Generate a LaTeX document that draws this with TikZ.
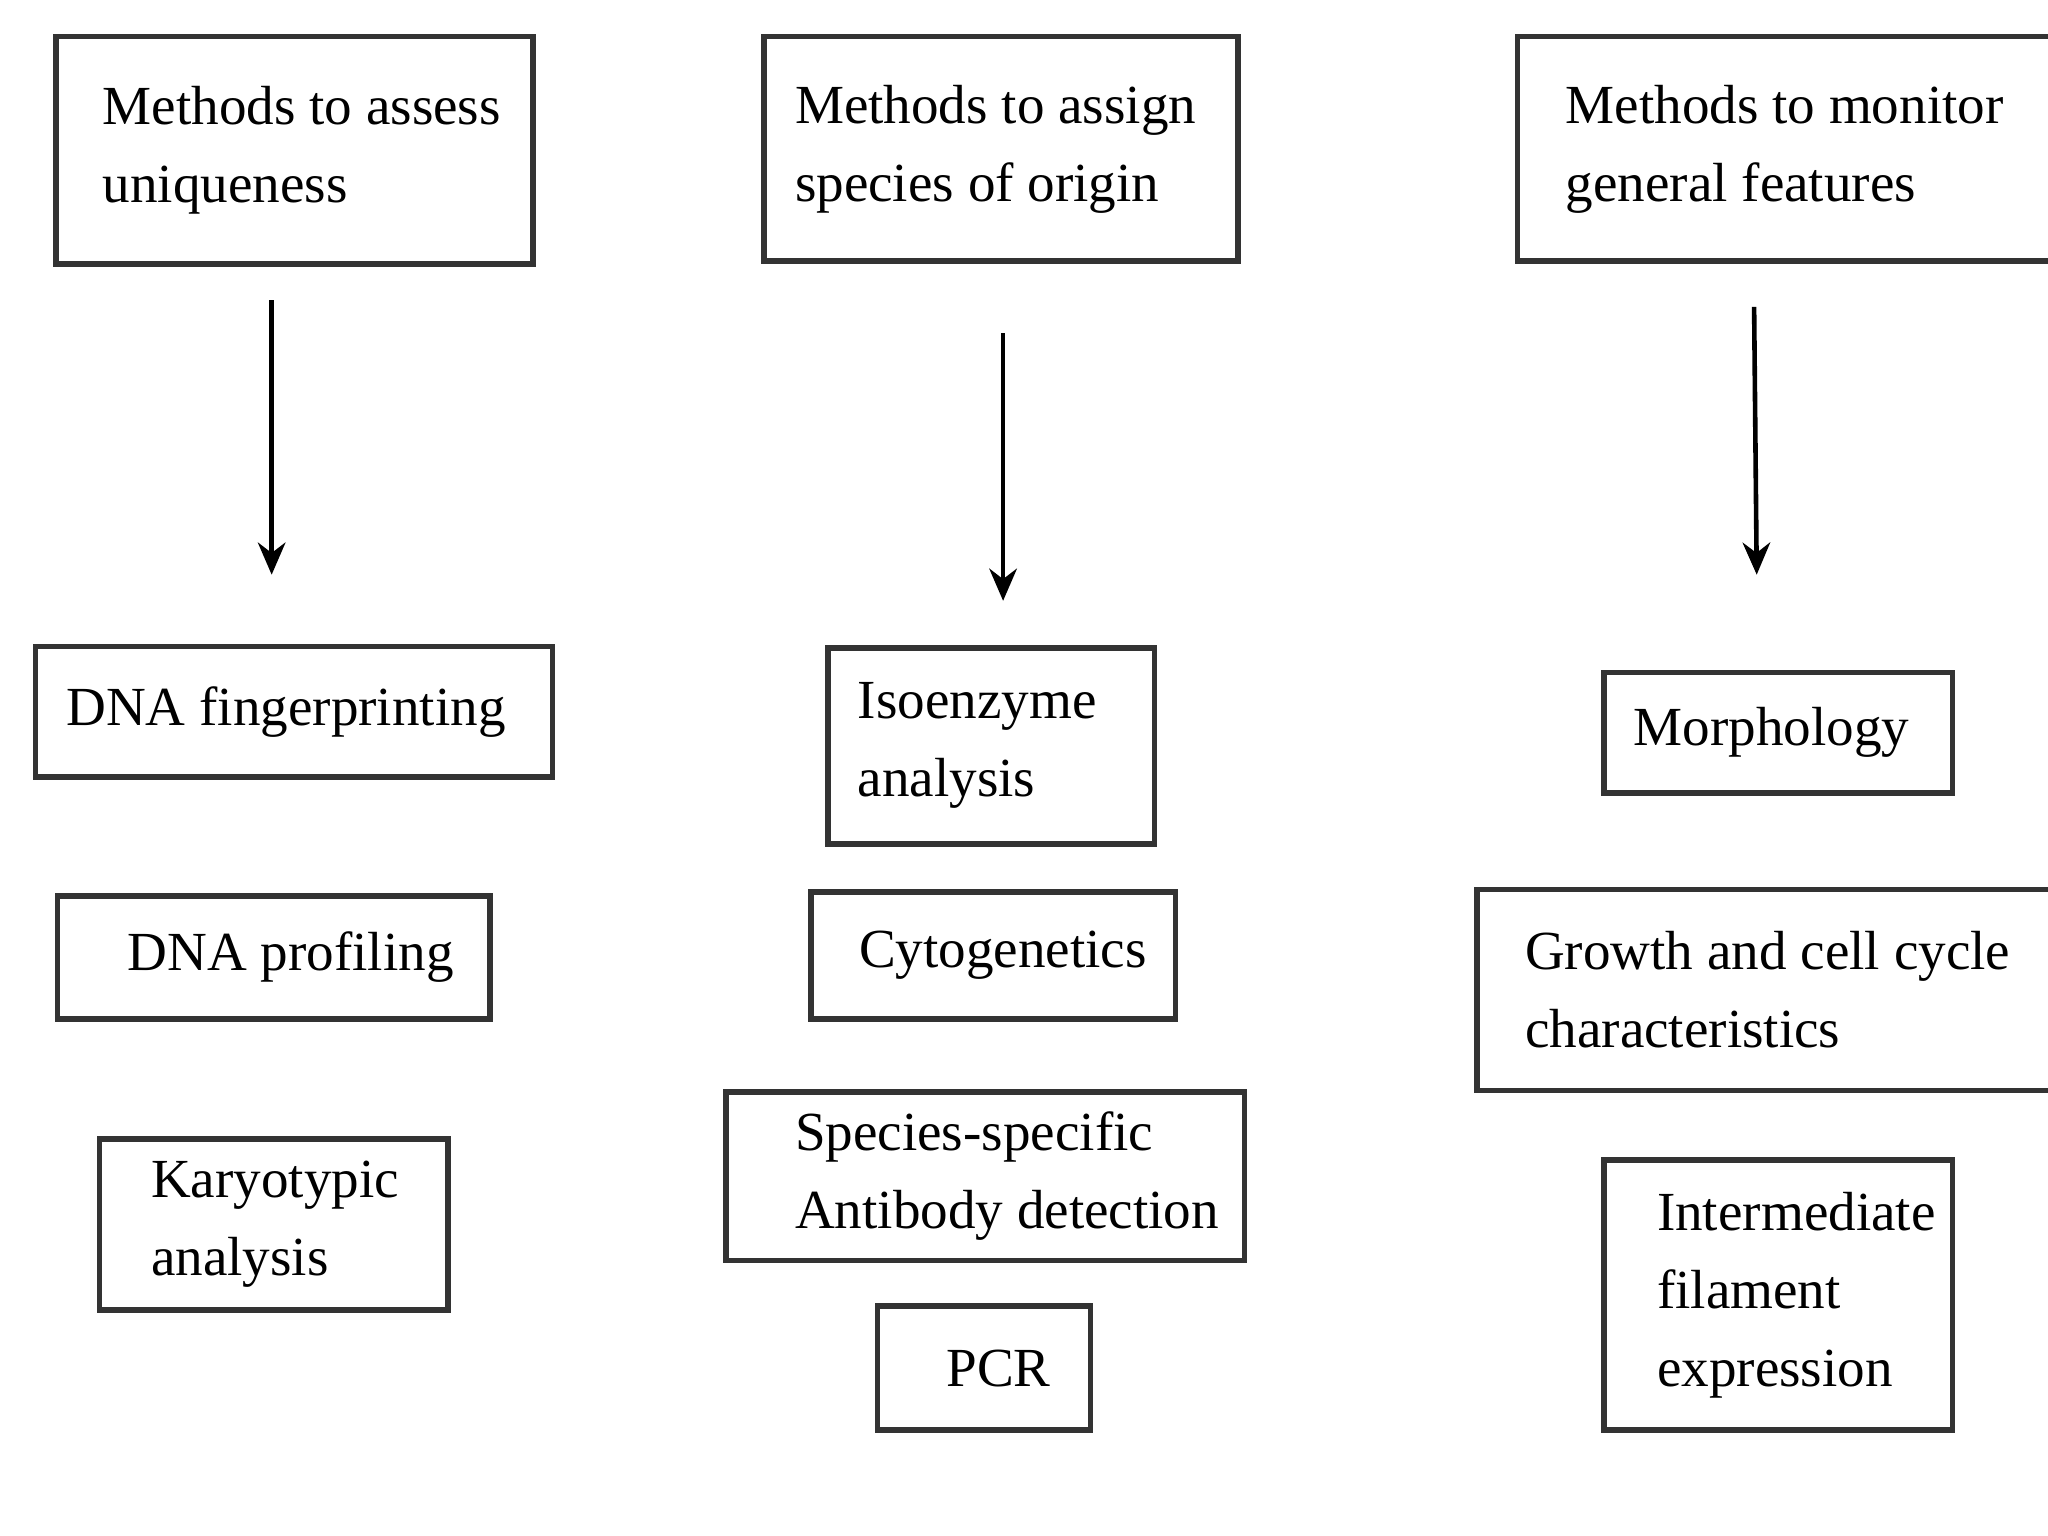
\documentclass[tikz,border=0pt]{standalone}
\usepackage{fontspec}
\setmainfont{Liberation Serif}
\usetikzlibrary{arrows.meta}
\begin{document}
\begin{tikzpicture}[x=0.01cm,y=-0.01cm,
  bx/.style={draw=black!80,line width=1.2pt,inner sep=0pt},
  tx/.style={align=left,inner sep=0pt,anchor=west,font=\fontsize{12pt}{17pt}\selectfont},
  arr/.style={-{Stealth[length=7pt,width=6pt]},line width=1pt}]
\useasboundingbox (0,0) rectangle (1568,1176);
\newcommand\bb[7]{\node[bx,minimum width={(#3-#1)*0.01cm},minimum height={(#4-#2)*0.01cm}] (#5) at ({(#1+#3)/2},{(#2+#4)/2}) {};
\node[tx] (#5t) at ({#1+#6},{(#2+#4)/2}) {#7};}
\bb{43}{28}{408}{202}{a1}{35}{Methods to assess\\uniqueness}
\bb{27}{495}{423}{595}{a2}{23}{DNA fingerprinting}
\bb{44}{686}{375}{780}{a3}{53}{DNA profiling}
\bb{76}{872}{343}{1003}{a4}{39}{Karyotypic\\analysis}
\bb{585}{28}{948}{200}{b1}{23}{Methods to assign\\species of origin}
\bb{634}{496}{884}{646}{b2}{22}{Isoenzyme\\analysis}
\bb{621}{683}{900}{780}{b3}{36}{Cytogenetics}
\bb{556}{836}{953}{965}{b4}{52}{Species-specific\\Antibody detection}
\bb{672}{1000}{835}{1095}{b5}{52}{PCR}
\bb{1162}{28}{1580}{200}{c1}{36}{Methods to monitor\\general features}
\bb{1228}{515}{1495}{607}{c2}{22}{Morphology}
\bb{1131}{681}{1580}{835}{c3}{36}{Growth and cell cycle\\characteristics}
\bb{1228}{888}{1495}{1095}{c4}{40}{Intermediate\\filament\\expression}
\coordinate (p1) at (208,230); \coordinate (q1) at (208,440);
\coordinate (p2) at (768,255); \coordinate (q2) at (768,460);
\coordinate (p3) at (1343,235); \coordinate (q3) at (1345,440);
\draw[arr] (p1) -- (q1);
\draw[arr] (p2) -- (q2);
\draw[arr] (p3) -- (q3);
\end{tikzpicture}
\end{document}
